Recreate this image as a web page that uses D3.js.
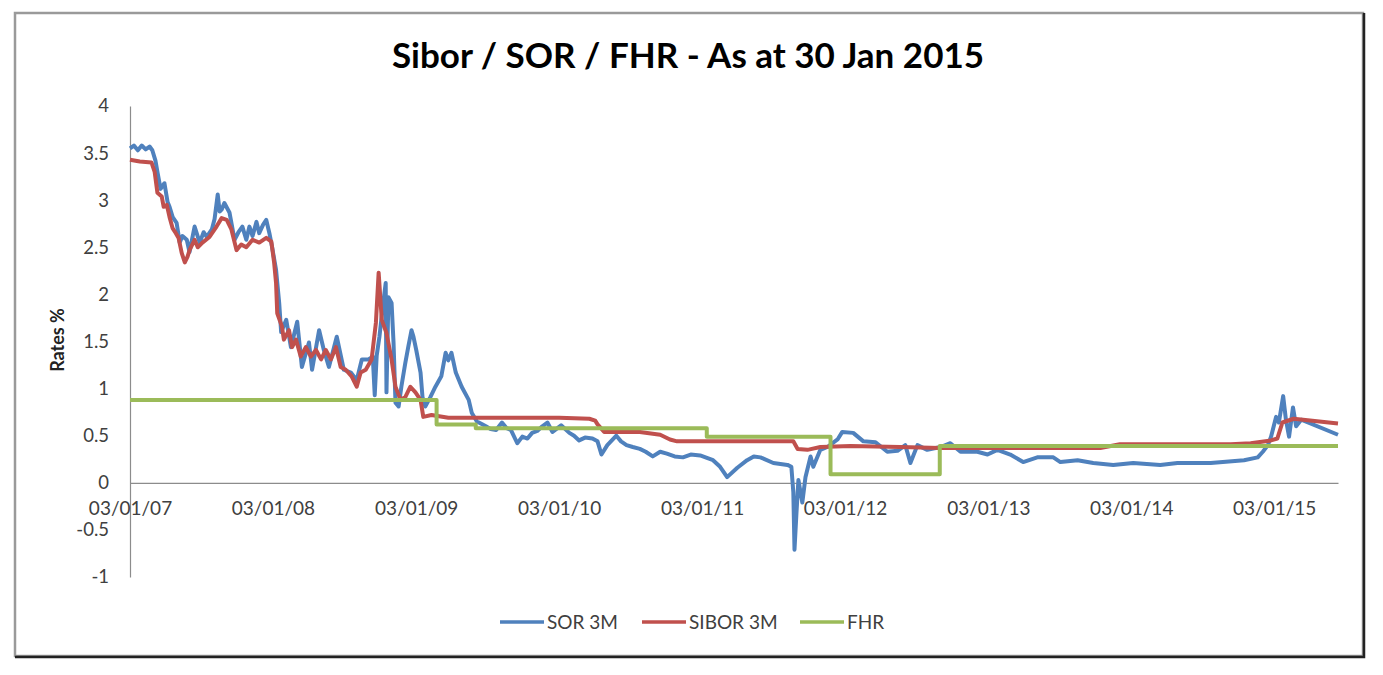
<!DOCTYPE html>
<html>
<head>
<meta charset="utf-8">
<script src="https://cdn.jsdelivr.net/npm/d3@7"></script>
<style>
body { margin: 0; background: #fff; }
svg { font-family: Lato, "Open Sans", sans-serif; }
.axisX text, .axisY text { fill: #404040; }
</style>
</head>
<body>
<div id="chart"></div>
<script>
// values, [date, rate %]
var sorData = [
	["2007-01-03",3.55],["2007-01-13",3.58],["2007-01-23",3.53],["2007-02-02",3.58],["2007-02-12",3.54],
	["2007-02-22",3.57],["2007-03-01",3.53],["2007-03-09",3.42],["2007-03-14",3.30],["2007-03-22",3.12],
	["2007-04-01",3.18],["2007-04-09",2.98],["2007-04-14",2.93],["2007-04-22",2.82],["2007-05-02",2.76],
	["2007-05-10",2.55],["2007-05-17",2.62],["2007-05-28",2.58],["2007-06-04",2.45],["2007-06-17",2.72],
	["2007-06-30",2.55],["2007-07-10",2.66],["2007-07-18",2.61],["2007-07-31",2.69],["2007-08-07",2.80],
	["2007-08-15",3.06],["2007-08-20",2.88],["2007-08-25",2.90],["2007-09-01",2.97],["2007-09-14",2.87],
	["2007-09-27",2.58],["2007-10-07",2.66],["2007-10-17",2.72],["2007-10-27",2.58],["2007-11-04",2.72],
	["2007-11-12",2.62],["2007-11-22",2.77],["2007-11-29",2.65],["2007-12-09",2.74],["2007-12-17",2.79],
	["2007-12-25",2.65],["2008-01-01",2.50],["2008-01-11",2.26],["2008-01-19",1.91],["2008-01-24",1.60],
	["2008-02-06",1.73],["2008-02-18",1.44],["2008-03-05",1.71],["2008-03-17",1.23],["2008-04-04",1.49],
	["2008-04-12",1.20],["2008-04-30",1.62],["2008-05-12",1.41],["2008-05-25",1.23],["2008-06-14",1.55],
	["2008-07-02",1.20],["2008-07-20",1.17],["2008-08-04",1.09],["2008-08-17",1.31],["2008-09-03",1.31],
	["2008-09-14",1.34],["2008-09-19",0.93],["2008-09-24",1.35],["2008-10-01",1.55],["2008-10-09",1.85],
	["2008-10-17",2.12],["2008-10-19",0.96],["2008-10-24",1.97],["2008-11-01",1.91],["2008-11-06",1.49],
	["2008-11-11",0.85],["2008-11-19",0.81],["2008-11-26",1.02],["2008-12-06",1.27],["2008-12-14",1.45],
	["2008-12-22",1.62],["2008-12-27",1.55],["2009-01-03",1.41],["2009-01-14",1.17],["2009-01-19",0.91],
	["2009-01-26",0.81],["2009-02-08",0.91],["2009-02-21",1.02],["2009-03-08",1.13],["2009-03-19",1.38],
	["2009-03-26",1.30],["2009-04-03",1.38],["2009-04-14",1.17],["2009-04-29",1.02],["2009-05-17",0.88],
	["2009-05-25",0.74],["2009-06-07",0.65],["2009-06-30",0.60],["2009-07-12",0.57],["2009-07-26",0.56],
	["2009-08-10",0.64],["2009-08-22",0.58],["2009-09-02",0.56],["2009-09-18",0.42],["2009-10-01",0.49],
	["2009-10-14",0.47],["2009-10-26",0.53],["2009-11-08",0.55],["2009-11-21",0.60],["2009-12-04",0.64],
	["2009-12-17",0.54],["2010-01-08",0.61],["2010-01-29",0.53],["2010-02-10",0.50],["2010-02-23",0.45],
	["2010-03-10",0.48],["2010-03-29",0.47],["2010-04-11",0.44],["2010-04-21",0.30],["2010-05-06",0.40],
	["2010-05-29",0.50],["2010-06-10",0.44],["2010-06-24",0.40],["2010-07-10",0.38],["2010-07-28",0.36],
	["2010-08-12",0.33],["2010-08-30",0.28],["2010-09-18",0.33],["2010-10-05",0.31],["2010-10-25",0.28],
	["2010-11-15",0.27],["2010-12-05",0.30],["2010-12-29",0.29],["2011-01-31",0.24],["2011-02-18",0.17],
	["2011-03-08",0.06],["2011-04-03",0.16],["2011-04-28",0.24],["2011-05-15",0.28],["2011-06-01",0.27],
	["2011-07-04",0.21],["2011-08-09",0.19],["2011-08-19",0.17],
	["2011-08-24",-0.10],["2011-08-27",-0.71],["2011-09-01",-0.32],["2011-09-06",0.03],["2011-09-16",-0.21],
	["2011-09-24",0.06],["2011-10-07",0.28],["2011-10-14",0.17],["2011-11-01",0.35],["2011-11-19",0.38],
	["2011-12-15",0.46],["2011-12-27",0.54],["2012-01-24",0.53],["2012-02-19",0.44],["2012-03-21",0.43],
	["2012-04-20",0.33],["2012-05-16",0.34],["2012-06-05",0.40],["2012-06-18",0.21],["2012-07-06",0.40],
	["2012-07-31",0.35],["2012-09-03",0.38],["2012-09-28",0.42],["2012-10-24",0.33],["2012-12-06",0.33],
	["2013-01-01",0.30],["2013-01-26",0.35],["2013-02-28",0.30],["2013-04-02",0.22],["2013-05-08",0.27],
	["2013-06-18",0.27],["2013-07-06",0.22],["2013-08-19",0.24],["2013-09-28",0.21],["2013-11-18",0.19],
	["2014-01-08",0.21],["2014-03-18",0.19],["2014-05-01",0.21],["2014-07-25",0.21],["2014-10-18",0.24],
	["2014-11-22",0.27],["2014-12-05",0.33],["2014-12-18",0.40],["2014-12-26",0.49],["2015-01-08",0.70],
	["2015-01-15",0.64],["2015-01-26",0.92],["2015-02-02",0.67],["2015-02-10",0.49],["2015-02-20",0.80],
	["2015-02-28",0.60],["2015-03-13",0.67],["2015-06-15",0.51]
];

var siborData = [
	["2007-01-03",3.43],["2007-01-28",3.41],["2007-02-27",3.40],["2007-03-07",3.30],["2007-03-14",3.08],
	["2007-03-25",3.04],["2007-03-30",2.93],["2007-04-07",2.95],["2007-04-14",2.82],["2007-04-22",2.70],
	["2007-04-30",2.65],["2007-05-07",2.60],["2007-05-15",2.44],["2007-05-23",2.34],["2007-05-30",2.40],
	["2007-06-04",2.47],["2007-06-17",2.58],["2007-06-25",2.50],["2007-07-07",2.55],["2007-07-25",2.61],
	["2007-08-12",2.72],["2007-08-25",2.81],["2007-09-07",2.79],["2007-09-19",2.69],["2007-10-02",2.47],
	["2007-10-14",2.53],["2007-10-27",2.50],["2007-11-12",2.58],["2007-11-29",2.55],["2007-12-17",2.60],
	["2007-12-30",2.56],["2008-01-06",2.34],["2008-01-11",2.12],["2008-01-14",1.80],["2008-01-26",1.66],
	["2008-01-31",1.52],["2008-02-13",1.62],["2008-02-21",1.44],["2008-03-02",1.52],["2008-03-14",1.34],
	["2008-03-27",1.44],["2008-04-09",1.34],["2008-04-22",1.41],["2008-05-05",1.31],["2008-05-17",1.41],
	["2008-05-30",1.31],["2008-06-12",1.44],["2008-06-24",1.23],["2008-07-07",1.20],["2008-07-22",1.13],
	["2008-08-04",1.02],["2008-08-14",1.17],["2008-08-27",1.20],["2008-09-11",1.31],["2008-09-22",1.70],
	["2008-09-29",2.23],["2008-10-07",1.73],["2008-10-19",1.59],["2008-11-01",1.31],["2008-11-11",1.02],
	["2008-11-24",0.88],["2008-12-06",0.91],["2008-12-19",1.02],["2009-01-01",0.96],["2009-01-14",0.88],
	["2009-01-21",0.70],["2009-02-11",0.72],["2009-03-26",0.69],["2009-08-02",0.69],["2010-01-03",0.69],
	["2010-03-21",0.68],["2010-04-05",0.66],["2010-04-11",0.62],["2010-04-28",0.54],["2010-07-28",0.54],
	["2010-09-18",0.51],["2010-10-13",0.46],["2010-10-31",0.44],["2011-08-24",0.44],["2011-09-04",0.36],
	["2011-09-29",0.35],["2011-11-01",0.38],["2012-01-17",0.39],["2012-05-23",0.38],["2012-09-03",0.37],
	["2013-02-03",0.37],["2013-10-16",0.37],["2013-12-05",0.41],["2014-09-14",0.41],["2014-11-04",0.42],
	["2014-12-26",0.45],["2015-01-11",0.47],["2015-01-24",0.64],["2015-02-22",0.68],["2015-06-15",0.63]
];

// FHR only changes in steps
var fhrData = [
	["2007-01-03",0.88],["2009-02-24",0.62],["2009-06-04",0.58],["2011-01-15",0.49],
	["2011-11-27",0.09],["2012-09-01",0.39],["2015-06-15",0.39]
];

var tickDates = ["2007-01-03","2008-01-03","2009-01-03","2010-01-03","2011-01-03",
	"2012-01-03","2013-01-03","2014-01-03","2015-01-03"];
var tickRates = [-1, -0.5, 0, 0.5, 1, 1.5, 2, 2.5, 3, 3.5, 4];

var seriesNames = ["SOR 3M", "SIBOR 3M", "FHR"];
var seriesColors = ["#4f81bd", "#c0504d", "#9bbb59"];

var parseDate = d3.timeParse("%Y-%m-%d");

function toPoints(arr)
{
	return arr.map(function(d) { return {date: parseDate(d[0]), value: d[1]}; });
}

var series = [
	{name: seriesNames[0], color: seriesColors[0], data: toPoints(sorData), curve: d3.curveLinear},
	{name: seriesNames[1], color: seriesColors[1], data: toPoints(siborData), curve: d3.curveLinear},
	{name: seriesNames[2], color: seriesColors[2], data: toPoints(fhrData), curve: d3.curveStepAfter}
];

var W = 1383, H = 675;

var svg = d3.select("#chart").append("svg")
	.attr("width", W)
	.attr("height", H);

// frame
svg.append("rect")
	.attr("x", 15).attr("y", 13)
	.attr("width", 1348).attr("height", 643)
	.attr("fill", "#fff")
	.attr("stroke", "#9a9a9a")
	.attr("stroke-width", 2.5);
svg.append("path")
	.attr("d", "M1364,13V657H15")
	.attr("fill", "none")
	.attr("stroke", "#222")
	.attr("stroke-width", 2.5);

var xS = d3.scaleTime()
	.domain([parseDate("2007-01-03"), parseDate("2015-06-15")])
	.range([130, 1338]);

var yS = d3.scaleLinear()
	.domain([-1, 4])
	.range([577, 106]);

svg.append("text")
	.attr("x", 688)
	.attr("y", 68)
	.attr("text-anchor", "middle")
	.style("font-size", "35px")
	.style("font-weight", "bold")
	.style("fill", "#000")
	.text("Sibor / SOR / FHR - As at 30 Jan 2015");

var yAxis = d3.axisLeft(yS)
	.tickValues(tickRates)
	.tickSize(0)
	.tickPadding(21)
	.tickFormat(function(d) { return String(d); });

svg.append("g")
	.attr("class", "axisY")
	.attr("transform", "translate(130,0)")
	.call(yAxis)
	.call(function(g) {
		g.select(".domain").attr("stroke", "#8c8c8c").attr("stroke-width", 1.2);
		g.selectAll("text").style("font-size", "18.5px").style("font-family", "Lato, sans-serif");
	});

var xAxis = d3.axisBottom(xS)
	.tickValues(tickDates.map(parseDate))
	.tickSize(0)
	.tickPadding(19)
	.tickFormat(d3.timeFormat("%d/%m/%y"));

svg.append("g")
	.attr("class", "axisX")
	.attr("transform", "translate(0," + yS(0) + ")")
	.call(xAxis)
	.call(function(g) {
		g.select(".domain").attr("stroke", "#8c8c8c").attr("stroke-width", 1.2);
		g.selectAll("text").style("font-size", "19px").style("font-family", "Lato, sans-serif");
	});

svg.append("text")
	.attr("transform", "translate(64,340) rotate(-90)")
	.attr("text-anchor", "middle")
	.style("font-size", "18px")
	.style("font-weight", "bold")
	.style("fill", "#222")
	.text("Rates %");

var plots = svg.append("g").attr("class", "plots");

series.forEach(function(s)
{
	var line = d3.line()
		.curve(s.curve)
		.x(function(d) { return xS(d.date); })
		.y(function(d) { return yS(d.value); });

	plots.append("path")
		.datum(s.data)
		.attr("fill", "none")
		.attr("stroke", s.color)
		.attr("stroke-width", 4)
		.attr("stroke-linejoin", "round")
		.attr("d", line);
});

// legend
var legendX = [500, 642, 800];
var legend = svg.append("g").attr("class", "legend");

series.forEach(function(s, i)
{
	var g = legend.append("g")
		.attr("transform", "translate(" + legendX[i] + ",622)");
	g.append("line")
		.attr("x1", 0).attr("x2", 44)
		.attr("stroke", s.color)
		.attr("stroke-width", 3.5);
	g.append("text")
		.attr("x", 47)
		.attr("dy", "0.35em")
		.style("font-size", "19px")
		.style("fill", "#404040")
		.text(s.name);
});
</script>
</body>
</html>
